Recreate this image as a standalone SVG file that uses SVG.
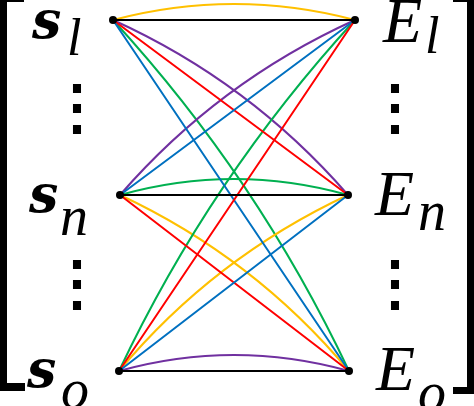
<svg xmlns="http://www.w3.org/2000/svg" width="474" height="406" viewBox="0 0 474 406">
<style>
.e{fill:none;stroke-width:2;stroke-linecap:round}
.k{stroke:#000}.y{stroke:#FFC000}.r{stroke:#FF0000}.g{stroke:#00B050}.b{stroke:#0070C0}.p{stroke:#7030A0}
.dot{fill:#000}
.br{fill:#000}
</style>
<rect width="474" height="406" fill="#fff"/>
<g id="brackets">
<rect class="br" x="0" y="-6" width="24" height="8"/>
<rect class="br" x="0" y="0" width="7" height="391"/>
<rect class="br" x="0" y="383" width="25" height="8"/>
<rect class="br" x="453" y="-6" width="21" height="8"/>
<rect class="br" x="467" y="0" width="7" height="394"/>
<rect class="br" x="453" y="387" width="21" height="7"/>
</g>
<g id="connectors">
<path class="e y" d="M113,20 Q234,-12 355,20"/>
<path class="e g" d="M120,195 Q234,163 348,195"/>
<path class="e p" d="M119,371 Q234,339 349,371"/>
<path class="e p" d="M113,20 Q249.6,81.8 348,195"/>
<path class="e g" d="M113,20 Q257.6,177.6 349,371"/>
<path class="e p" d="M120,195 Q218.4,81.8 355,20"/>
<path class="e y" d="M120,195 Q254,257.6 349,371"/>
<path class="e g" d="M119,371 Q210.4,177.6 355,20"/>
<path class="e y" d="M119,371 Q214,257.6 348,195"/>
<path class="e r" d="M113,20 L348,195"/>
<path class="e b" d="M113,20 L349,371"/>
<path class="e b" d="M120,195 L355,20"/>
<path class="e r" d="M120,195 L349,371"/>
<path class="e r" d="M119,371 L355,20"/>
<path class="e b" d="M119,371 L348,195"/>
<path class="e k" d="M113,20 L355,20"/>
<path class="e k" d="M120,195 L348,195"/>
<path class="e k" d="M119,371 L349,371"/>
</g>
<g id="s_l"><circle class="dot" cx="113" cy="20" r="4"/><text font-family="DejaVu Serif" font-style="italic" font-weight="bold" font-size="52" x="32" y="38">s</text><text font-family="Times New Roman" font-style="italic" font-size="52" x="67" y="55">l</text></g>
<g id="s_n"><circle class="dot" cx="120" cy="195" r="4"/><text font-family="DejaVu Serif" font-style="italic" font-weight="bold" font-size="52" x="29" y="212">s</text><text font-family="Times New Roman" font-style="italic" font-size="56" x="60" y="235">n</text></g>
<g id="s_o"><circle class="dot" cx="119" cy="371" r="4"/><text font-family="DejaVu Serif" font-style="italic" font-weight="bold" font-size="52" x="27" y="387">s</text><text font-family="Times New Roman" font-style="italic" font-size="56" x="61" y="408">o</text></g>
<g id="E_l"><circle class="dot" cx="355" cy="20" r="4"/><text font-family="Liberation Serif" font-style="italic" font-size="64" x="383" y="42">E</text><text font-family="Times New Roman" font-style="italic" font-size="52" x="425" y="53">l</text></g>
<g id="E_n"><circle class="dot" cx="348" cy="195" r="4"/><text font-family="Liberation Serif" font-style="italic" font-size="64" x="375" y="215">E</text><text font-family="Times New Roman" font-style="italic" font-size="56" x="418" y="230">n</text></g>
<g id="E_o"><circle class="dot" cx="349" cy="371" r="4"/><text font-family="Liberation Serif" font-style="italic" font-size="64" x="376" y="390">E</text><text font-family="Times New Roman" font-style="italic" font-size="56" x="418" y="411">o</text></g>
<g id="ellipses">
<text font-family="DejaVu Serif" font-weight="bold" font-size="60" text-anchor="middle" x="77" y="128">⋮</text>
<text font-family="DejaVu Serif" font-weight="bold" font-size="60" text-anchor="middle" x="77" y="304">⋮</text>
<text font-family="DejaVu Serif" font-weight="bold" font-size="60" text-anchor="middle" x="395" y="128">⋮</text>
<text font-family="DejaVu Serif" font-weight="bold" font-size="60" text-anchor="middle" x="395" y="304">⋮</text>
</g>
</svg>
